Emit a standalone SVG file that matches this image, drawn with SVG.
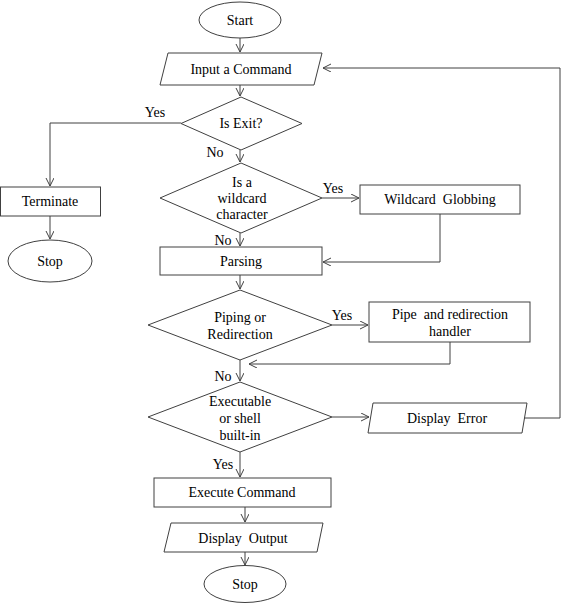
<svg xmlns="http://www.w3.org/2000/svg" width="562" height="607" viewBox="0 0 562 607">
<defs>
<marker id="arr" markerWidth="10" markerHeight="10" refX="8" refY="4" orient="auto" markerUnits="userSpaceOnUse">
<path d="M0,0 L8,4 L0,8" fill="none" stroke="#404040" stroke-width="1"/>
</marker>
<style>
.s{fill:#fff;stroke:#404040;stroke-width:1}
.c{fill:none;stroke:#404040;stroke-width:1}
.a{fill:none;stroke:#404040;stroke-width:1;marker-end:url(#arr)}
text{font-size:14px;fill:#000}
.m{text-anchor:middle}
</style>
</defs>
<rect width="562" height="607" fill="#fff"/>
<g font-family="'Liberation Serif', 'Times New Roman', 'DejaVu Serif', serif">
<g id="connectors">
<path class="a" d="M240,38 V52"/>
<path class="a" d="M240,85 V96"/>
<path class="a" d="M181,123 H50 V186"/>
<path class="a" d="M50,216 V239"/>
<path class="a" d="M240,150 V162"/>
<path class="a" d="M322,198 H359"/>
<path class="a" d="M240,233 V246"/>
<path class="a" d="M440,214 V262 H323"/>
<path class="a" d="M240,275 V289"/>
<path class="a" d="M332,325 H368"/>
<path class="a" d="M450,342 V364 H249"/>
<path class="a" d="M240,360 V381"/>
<path class="a" d="M332,417 H369"/>
<path class="a" d="M524,418 H560 V68 H323"/>
<path class="a" d="M240,452 V477"/>
<path class="a" d="M245,507 V522"/>
<path class="a" d="M245,552 V565"/>
<text x="155" y="117" class="m">Yes</text>
<text x="215" y="157" class="m">No</text>
<text x="333" y="193" class="m">Yes</text>
<text x="223" y="245" class="m">No</text>
<text x="342" y="320" class="m">Yes</text>
<text x="223" y="381" class="m">No</text>
<text x="223" y="469" class="m">Yes</text>
</g>
<g id="start"><ellipse class="s" cx="240" cy="20" rx="41" ry="18"/><text x="240" y="25" class="m">Start</text></g>
<g id="input"><polygon class="s" points="168,53 322,53 314,85 160,85"/><text x="241" y="74" class="m">Input a Command</text></g>
<g id="isexit"><polygon class="s" points="241,97 302,123.5 241,150 181,123.5"/><text x="241" y="128" class="m">Is Exit?</text></g>
<g id="terminate"><rect class="s" x="0.5" y="187" width="100" height="29"/><text x="50" y="206" class="m">Terminate</text></g>
<g id="stop1"><ellipse class="s" cx="50" cy="261" rx="42" ry="21"/><text x="50" y="266" class="m">Stop</text></g>
<g id="wildcard"><polygon class="s" points="241,163 322,198 241,233 160,198"/><text x="242" y="187" class="m">Is a</text><text x="242" y="203" class="m">wildcard</text><text x="242" y="219" class="m">character</text></g>
<g id="globbing"><rect class="s" x="360" y="185" width="160" height="29"/><text x="440" y="204" class="m" xml:space="preserve">Wildcard  Globbing</text></g>
<g id="parsing"><rect class="s" x="160" y="247" width="162" height="28"/><text x="241" y="266" class="m">Parsing</text></g>
<g id="piping"><polygon class="s" points="240,290 332,325 240,360 148,325"/><text x="240" y="322" class="m">Piping or</text><text x="240" y="339" class="m">Redirection</text></g>
<g id="pipehandler"><rect class="s" x="369" y="302" width="161" height="40"/><text x="450" y="319" class="m" xml:space="preserve">Pipe  and redirection</text><text x="450" y="336" class="m">handler</text></g>
<g id="executable"><polygon class="s" points="240,382 332,417 240,452 148,417"/><text x="240" y="406" class="m">Executable</text><text x="240" y="423" class="m">or shell</text><text x="240" y="440" class="m">built-in</text></g>
<g id="displayerror"><polygon class="s" points="373,403 527,403 522,433 368,433"/><text x="447" y="423" class="m" xml:space="preserve">Display  Error</text></g>
<g id="execute"><rect class="s" x="154" y="478" width="177" height="29"/><text x="242" y="497" class="m">Execute Command</text></g>
<g id="displayoutput"><polygon class="s" points="171,523 323,523 317,552 164,552"/><text x="243" y="543" class="m" xml:space="preserve">Display  Output</text></g>
<g id="stop2"><ellipse class="s" cx="245" cy="584" rx="41" ry="18.5"/><text x="245" y="589" class="m">Stop</text></g>
</g>
</svg>
